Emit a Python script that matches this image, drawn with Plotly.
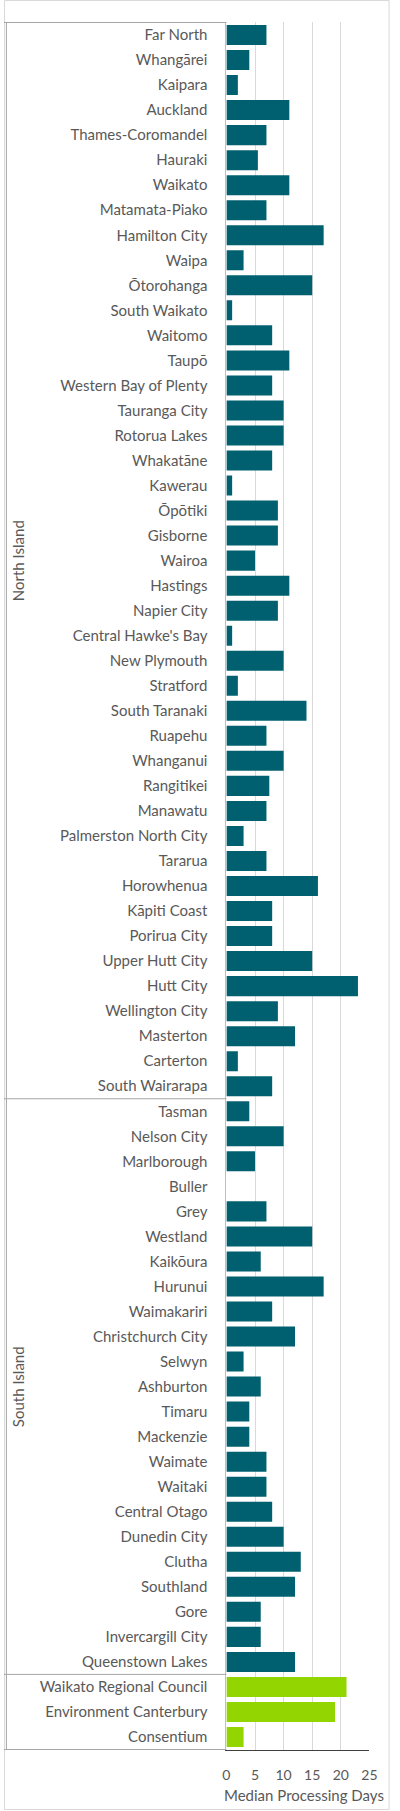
import plotly.graph_objects as go

# North Island territorial authorities
north_names = [
    "Far North", "Whangārei", "Kaipara", "Auckland", "Thames-Coromandel", "Hauraki",
    "Waikato", "Matamata-Piako", "Hamilton City", "Waipa", "Ōtorohanga", "South Waikato",
    "Waitomo", "Taupō", "Western Bay of Plenty", "Tauranga City", "Rotorua Lakes",
    "Whakatāne", "Kawerau", "Ōpōtiki", "Gisborne", "Wairoa", "Hastings", "Napier City",
    "Central Hawke's Bay", "New Plymouth", "Stratford", "South Taranaki", "Ruapehu",
    "Whanganui", "Rangitikei", "Manawatu", "Palmerston North City", "Tararua",
    "Horowhenua", "Kāpiti Coast", "Porirua City", "Upper Hutt City", "Hutt City",
    "Wellington City", "Masterton", "Carterton", "South Wairarapa",
]
north_days = [
    7, 4, 2, 11, 7, 5.5,
    11, 7, 17, 3, 15, 1,
    8, 11, 8, 10, 10,
    8, 1, 9, 9, 5, 11, 9,
    1, 10, 2, 14, 7,
    10, 7.5, 7, 3, 7,
    16, 8, 8, 15, 23,
    9, 12, 2, 8,
]

# South Island
south_names = [
    "Tasman", "Nelson City", "Marlborough", "Buller", "Grey", "Westland", "Kaikōura",
    "Hurunui", "Waimakariri", "Christchurch City", "Selwyn", "Ashburton", "Timaru",
    "Mackenzie", "Waimate", "Waitaki", "Central Otago", "Dunedin City", "Clutha",
    "Southland", "Gore", "Invercargill City", "Queenstown Lakes",
]
south_days = [
    4, 10, 5, 0, 7, 15, 6,
    17, 8, 12, 3, 6, 4,
    4, 7, 7, 8, 10, 13,
    12, 6, 6, 12,
]

# regional councils / other
regional_names = ["Waikato Regional Council", "Environment Canterbury", "Consentium"]
regional_days = [21, 19, 3]

teal = "#00606F"
green = "#93D500"
grey_text = "#595959"

names = north_names + south_names + regional_names
n_north = len(north_names)
n_south = len(south_names)
n_all = len(names)

# plot area in pixels
W, H = 400, 1811
px_left, px_right = 229.3, 376.7
px_top, px_bottom = 22, 1750

fig = go.Figure()
fig.add_trace(go.Bar(
    y=north_names + south_names, x=north_days + south_days, orientation="h",
    marker=dict(color=teal, line=dict(width=0)), showlegend=False,
))
fig.add_trace(go.Bar(
    y=regional_names, x=regional_days, orientation="h",
    marker=dict(color=green, line=dict(width=0)), showlegend=False,
))

line_col = "#a6a6a6"
shapes = [
    # outer chart border
    dict(type="rect", xref="paper", yref="paper", x0=0.5 / W, x1=397 / W,
         y0=1.5 / H, y1=1 - 0.5 / H, line=dict(color="#d9d9d9", width=1)),
    # left edge of category area
    dict(type="line", xref="paper", yref="y", x0=2.5 / W, x1=2.5 / W,
         y0=-0.5, y1=n_all - 0.5, line=dict(color=line_col, width=1)),
]
for b in [-0.5, n_north - 0.5, n_north + n_south - 0.5, n_all - 0.5]:
    shapes.append(dict(type="line", xref="paper", yref="y", x0=0, x1=px_left / W,
                       y0=b, y1=b, line=dict(color=line_col, width=1)))

annotations = [
    dict(text="North Island", xref="paper", yref="y", x=14 / W, y=(n_north - 1) / 2,
         xanchor="center", yanchor="middle",
         textangle=-90, showarrow=False, font=dict(size=15, color=grey_text)),
    dict(text="South Island", xref="paper", yref="y", x=14 / W,
         y=n_north + (n_south - 1) / 2, xanchor="center", yanchor="middle",
         textangle=-90, showarrow=False, font=dict(size=15, color=grey_text)),
    # axis title, placed like the original (slightly right of centre)
    dict(text="Median Processing Days", xref="paper", yref="paper",
         x=309 / W, y=(H - 1795) / H, xanchor="center", yanchor="middle",
         showarrow=False, font=dict(size=15, color=grey_text)),
]

fig.update_layout(
    width=W, height=H,
    margin=dict(l=0, r=0, t=0, b=0),
    paper_bgcolor="white", plot_bgcolor="white",
    font=dict(family="Lato, Open Sans, sans-serif", size=15, color=grey_text),
    bargap=0.2,
    shapes=shapes,
    annotations=annotations,
    xaxis=dict(
        domain=[px_left / W, px_right / W],
        range=[0, 25], dtick=5, tick0=0,
        showgrid=True, gridcolor="#d9d9d9", gridwidth=1,
        zeroline=False, showline=True, linecolor="#404040", linewidth=1,
        ticks="", ticklabelstandoff=12, tickfont=dict(size=14, color=grey_text),
    ),
    yaxis=dict(
        domain=[(H - px_bottom) / H, (H - px_top) / H],
        type="category", categoryorder="array", categoryarray=names,
        autorange="reversed",
        showgrid=False, zeroline=False, showline=True, linecolor="#bfbfbf",
        ticks="", ticklabelstandoff=15, tickfont=dict(size=15, color=grey_text),
    ),
)

fig.write_html("out.html", config={"displayModeBar": False},
               post_script="document.body.style.margin='0';")
